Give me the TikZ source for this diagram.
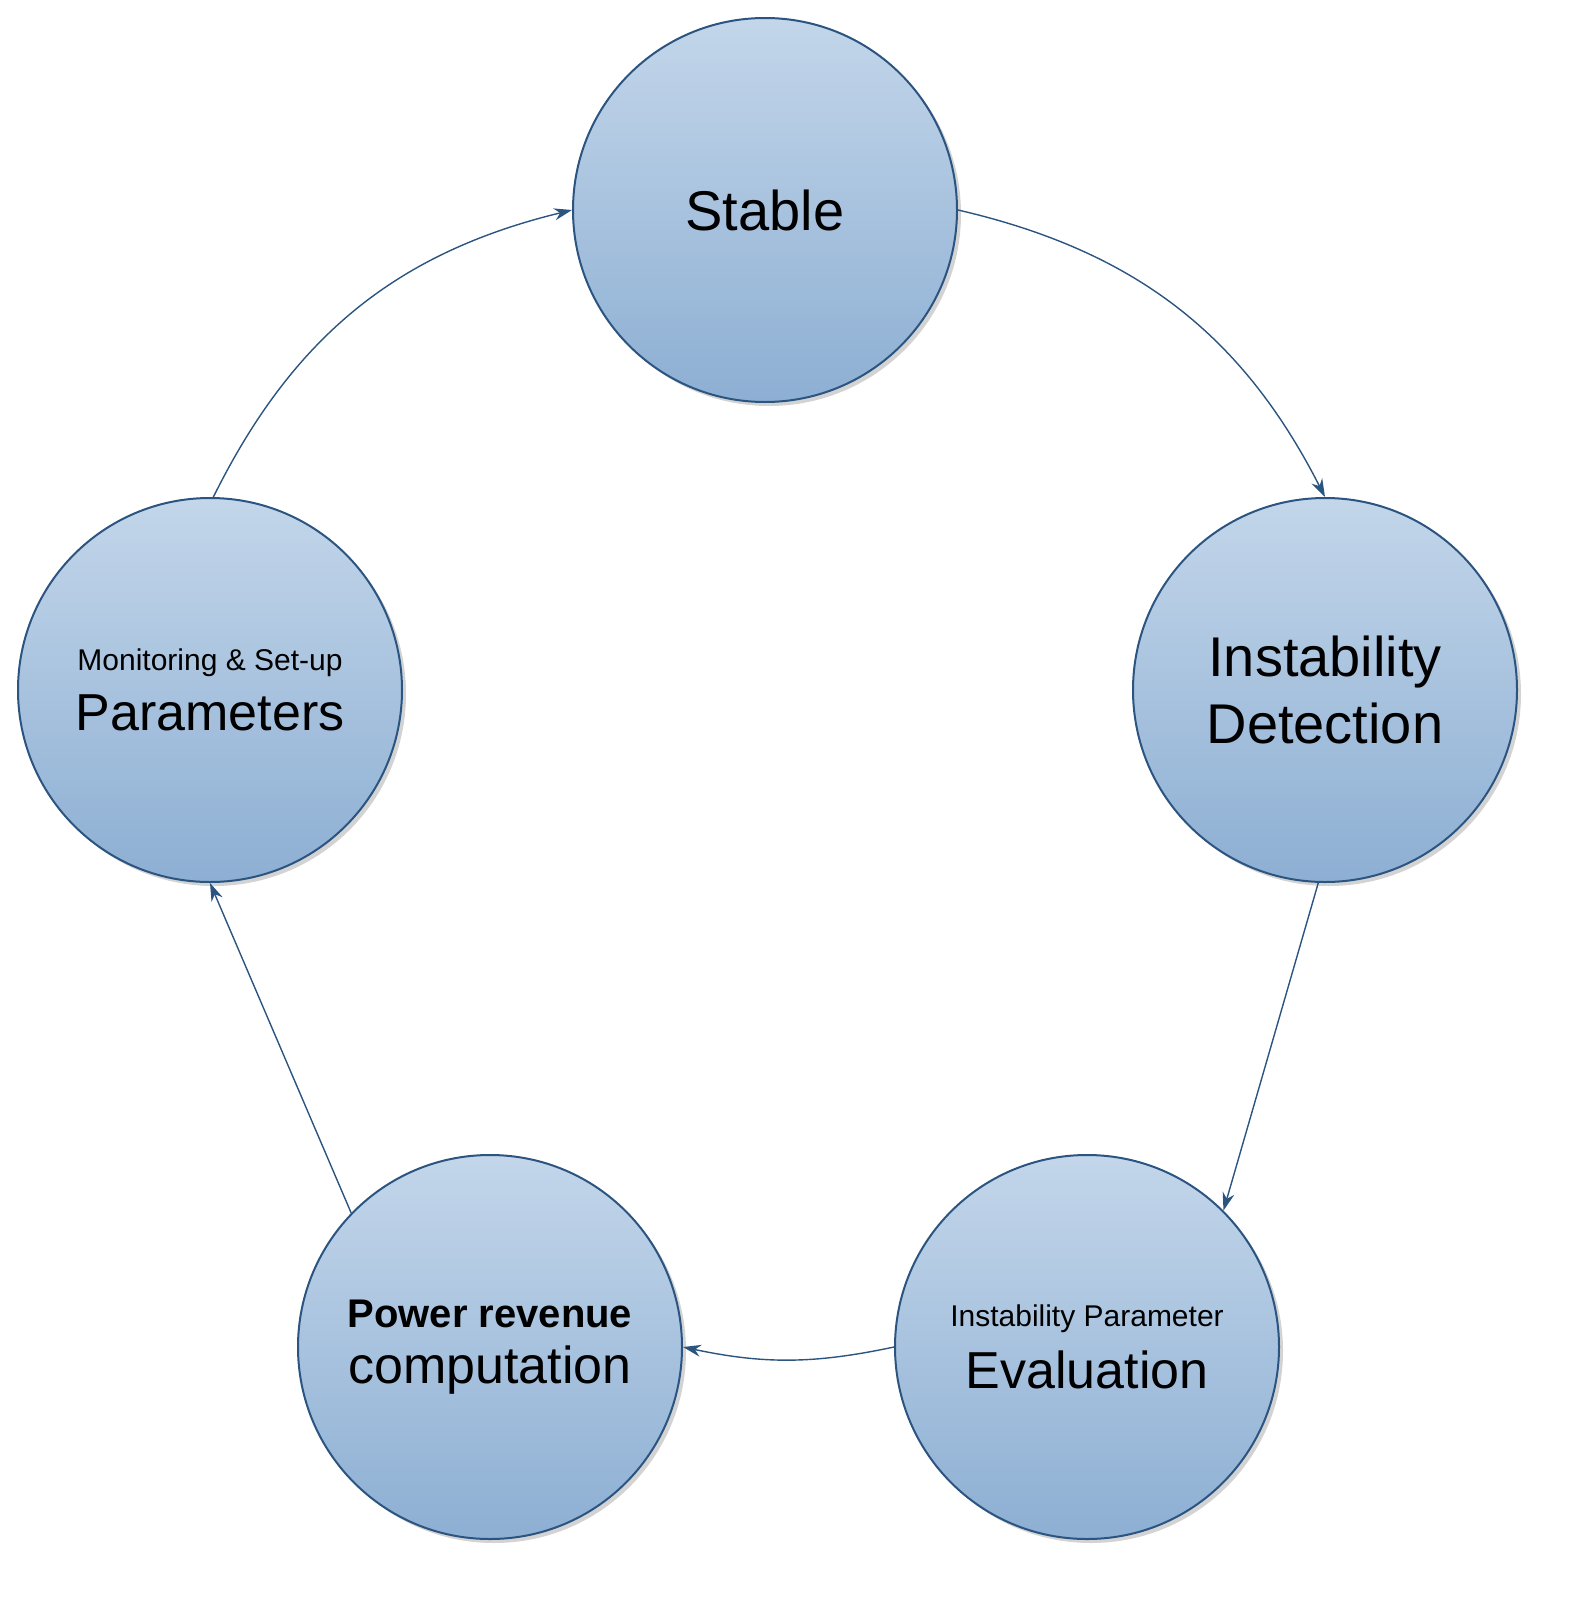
\documentclass[tikz,border=0pt]{standalone}
\usepackage{fontspec}
\setmainfont{Liberation Sans}
\usetikzlibrary{arrows.meta,shadows}
\definecolor{edge}{HTML}{2B5580}
\definecolor{ctop}{HTML}{C3D6EA}
\definecolor{cbot}{HTML}{8DAFD3}
\tikzset{
  st/.style={circle,minimum size=192pt,inner sep=0pt,draw=edge,line width=1pt,
    top color=ctop,bottom color=cbot,align=center,
    drop shadow={shadow xshift=2pt,shadow yshift=-2pt,opacity=0.35}},
  ar/.style={draw=edge,line width=0.7pt,-{Stealth[length=9pt,width=6pt]}}
}
\begin{document}
\begin{tikzpicture}[x=0.5pt,y=-0.5pt]
\useasboundingbox (0,0) rectangle (1586,1622);
\node[st] (s) at (765,210) {\fontsize{28}{32}\selectfont Stable};
\node[st] (i) at (1325,690) {\fontsize{28}{33}\selectfont Instability\\[6pt]\fontsize{28}{33}\selectfont Detection};
\node[st] (e) at (1087,1347) {\fontsize{15}{18}\selectfont Instability Parameter\\[8pt]\fontsize{26}{30}\selectfont Evaluation};
\node[st] (r) at (490,1347) {\fontsize{20}{24}\selectfont\bfseries Power revenue\\[8pt]\fontsize{26}{30}\selectfont computation};
\node[st] (p) at (210,690) {\fontsize{15}{18}\selectfont Monitoring \& Set-up\\[8pt]\fontsize{26}{30}\selectfont Parameters};
\draw[ar] (s.east) to[bend left=25] (i.north);
\draw[ar] (i.268) -- (e.45);
\draw[ar] (e.180) to[bend left=12] (r.0);
\draw[ar] (r.136) -- (p.270);
\draw[ar] (p.89) to[bend left=25] (s.west);
\end{tikzpicture}
\end{document}
